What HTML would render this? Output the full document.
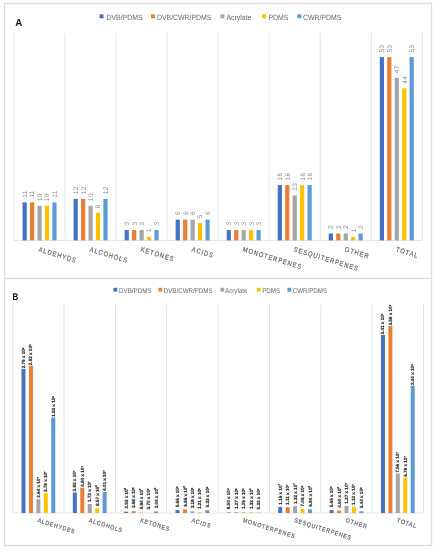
<!DOCTYPE html><html><head><meta charset="utf-8"><style>html,body{margin:0;padding:0;background:#fff;width:436px;height:550px;overflow:hidden}svg{display:block;will-change:transform;filter:blur(0.35px)}text{font-family:"Liberation Sans",sans-serif;text-rendering:geometricPrecision}</style></head><body>
<svg width="436" height="550" viewBox="0 0 436 550">
<rect width="436" height="550" fill="#fff"/>
<path d="M4.5 3.5H431.5V545.5H4.5Z M4.5 278.5H431.5" fill="none" stroke="#DEDEDE" stroke-width="1.3"/>
<line x1="14.05" y1="32.9" x2="14.05" y2="240.4" stroke="#E2E2E2" stroke-width="1"/>
<line x1="65.08" y1="32.9" x2="65.08" y2="240.4" stroke="#E2E2E2" stroke-width="1"/>
<line x1="116.11" y1="32.9" x2="116.11" y2="240.4" stroke="#E2E2E2" stroke-width="1"/>
<line x1="167.14" y1="32.9" x2="167.14" y2="240.4" stroke="#E2E2E2" stroke-width="1"/>
<line x1="218.17" y1="32.9" x2="218.17" y2="240.4" stroke="#E2E2E2" stroke-width="1"/>
<line x1="269.2" y1="32.9" x2="269.2" y2="240.4" stroke="#E2E2E2" stroke-width="1"/>
<line x1="320.23" y1="32.9" x2="320.23" y2="240.4" stroke="#E2E2E2" stroke-width="1"/>
<line x1="371.26" y1="32.9" x2="371.26" y2="240.4" stroke="#E2E2E2" stroke-width="1"/>
<line x1="422.29" y1="32.9" x2="422.29" y2="240.4" stroke="#E2E2E2" stroke-width="1"/>
<line x1="14.05" y1="240.4" x2="422.29" y2="240.4" stroke="#E2E2E2" stroke-width="1"/>
<rect x="22.56" y="202.36" width="4.2" height="38.04" fill="#4472C4"/>
<text transform="translate(27.04,197.76) rotate(-90)" font-size="6.6" letter-spacing="0.35" fill="#8a8a8a">11</text>
<rect x="30.01" y="202.36" width="4.2" height="38.04" fill="#ED7D31"/>
<text transform="translate(34.49,197.76) rotate(-90)" font-size="6.6" letter-spacing="0.35" fill="#8a8a8a">11</text>
<rect x="37.46" y="205.82" width="4.2" height="34.58" fill="#A5A5A5"/>
<text transform="translate(41.94,201.22) rotate(-90)" font-size="6.6" letter-spacing="0.35" fill="#8a8a8a">10</text>
<rect x="44.91" y="205.82" width="4.2" height="34.58" fill="#FFC000"/>
<text transform="translate(49.39,201.22) rotate(-90)" font-size="6.6" letter-spacing="0.35" fill="#8a8a8a">10</text>
<rect x="52.36" y="202.36" width="4.2" height="38.04" fill="#5B9BD5"/>
<text transform="translate(56.84,197.76) rotate(-90)" font-size="6.6" letter-spacing="0.35" fill="#8a8a8a">11</text>
<text transform="translate(38.16,251.3) rotate(17) scale(0.85,1)" font-size="6.8" letter-spacing="1.25" fill="#606060" stroke="#606060" stroke-width="0.18">ALDEHYDS</text>
<rect x="73.59" y="198.9" width="4.2" height="41.5" fill="#4472C4"/>
<text transform="translate(78.07,194.3) rotate(-90)" font-size="6.6" letter-spacing="0.35" fill="#8a8a8a">12</text>
<rect x="81.05" y="198.9" width="4.2" height="41.5" fill="#ED7D31"/>
<text transform="translate(85.52,194.3) rotate(-90)" font-size="6.6" letter-spacing="0.35" fill="#8a8a8a">12</text>
<rect x="88.5" y="205.82" width="4.2" height="34.58" fill="#A5A5A5"/>
<text transform="translate(92.97,201.22) rotate(-90)" font-size="6.6" letter-spacing="0.35" fill="#8a8a8a">10</text>
<rect x="95.95" y="212.74" width="4.2" height="27.66" fill="#FFC000"/>
<text transform="translate(100.42,208.14) rotate(-90)" font-size="6.6" letter-spacing="0.35" fill="#8a8a8a">8</text>
<rect x="103.4" y="198.9" width="4.2" height="41.5" fill="#5B9BD5"/>
<text transform="translate(107.87,194.3) rotate(-90)" font-size="6.6" letter-spacing="0.35" fill="#8a8a8a">12</text>
<text transform="translate(89.19,251.3) rotate(17) scale(0.85,1)" font-size="6.8" letter-spacing="1.25" fill="#606060" stroke="#606060" stroke-width="0.18">ALCOHOLS</text>
<rect x="124.62" y="230.03" width="4.2" height="10.37" fill="#4472C4"/>
<text transform="translate(129.1,225.43) rotate(-90)" font-size="6.6" letter-spacing="0.35" fill="#8a8a8a">3</text>
<rect x="132.08" y="230.03" width="4.2" height="10.37" fill="#ED7D31"/>
<text transform="translate(136.55,225.43) rotate(-90)" font-size="6.6" letter-spacing="0.35" fill="#8a8a8a">3</text>
<rect x="139.53" y="230.03" width="4.2" height="10.37" fill="#A5A5A5"/>
<text transform="translate(144,225.43) rotate(-90)" font-size="6.6" letter-spacing="0.35" fill="#8a8a8a">3</text>
<rect x="146.97" y="236.94" width="4.2" height="3.46" fill="#FFC000"/>
<text transform="translate(151.45,232.34) rotate(-90)" font-size="6.6" letter-spacing="0.35" fill="#8a8a8a">1</text>
<rect x="154.43" y="230.03" width="4.2" height="10.37" fill="#5B9BD5"/>
<text transform="translate(158.9,225.43) rotate(-90)" font-size="6.6" letter-spacing="0.35" fill="#8a8a8a">3</text>
<text transform="translate(140.22,251.3) rotate(17) scale(0.85,1)" font-size="6.8" letter-spacing="1.25" fill="#606060" stroke="#606060" stroke-width="0.18">KETONES</text>
<rect x="175.66" y="219.65" width="4.2" height="20.75" fill="#4472C4"/>
<text transform="translate(180.13,215.05) rotate(-90)" font-size="6.6" letter-spacing="0.35" fill="#8a8a8a">6</text>
<rect x="183.11" y="219.65" width="4.2" height="20.75" fill="#ED7D31"/>
<text transform="translate(187.58,215.05) rotate(-90)" font-size="6.6" letter-spacing="0.35" fill="#8a8a8a">6</text>
<rect x="190.56" y="219.65" width="4.2" height="20.75" fill="#A5A5A5"/>
<text transform="translate(195.03,215.05) rotate(-90)" font-size="6.6" letter-spacing="0.35" fill="#8a8a8a">6</text>
<rect x="198.01" y="223.11" width="4.2" height="17.29" fill="#FFC000"/>
<text transform="translate(202.48,218.51) rotate(-90)" font-size="6.6" letter-spacing="0.35" fill="#8a8a8a">5</text>
<rect x="205.46" y="219.65" width="4.2" height="20.75" fill="#5B9BD5"/>
<text transform="translate(209.93,215.05) rotate(-90)" font-size="6.6" letter-spacing="0.35" fill="#8a8a8a">6</text>
<text transform="translate(191.26,251.3) rotate(17) scale(0.85,1)" font-size="6.8" letter-spacing="1.25" fill="#606060" stroke="#606060" stroke-width="0.18">ACIDS</text>
<rect x="226.69" y="230.03" width="4.2" height="10.37" fill="#4472C4"/>
<text transform="translate(231.16,225.43) rotate(-90)" font-size="6.6" letter-spacing="0.35" fill="#8a8a8a">3</text>
<rect x="234.14" y="230.03" width="4.2" height="10.37" fill="#ED7D31"/>
<text transform="translate(238.61,225.43) rotate(-90)" font-size="6.6" letter-spacing="0.35" fill="#8a8a8a">3</text>
<rect x="241.59" y="230.03" width="4.2" height="10.37" fill="#A5A5A5"/>
<text transform="translate(246.06,225.43) rotate(-90)" font-size="6.6" letter-spacing="0.35" fill="#8a8a8a">3</text>
<rect x="249.03" y="230.03" width="4.2" height="10.37" fill="#FFC000"/>
<text transform="translate(253.51,225.43) rotate(-90)" font-size="6.6" letter-spacing="0.35" fill="#8a8a8a">3</text>
<rect x="256.48" y="230.03" width="4.2" height="10.37" fill="#5B9BD5"/>
<text transform="translate(260.96,225.43) rotate(-90)" font-size="6.6" letter-spacing="0.35" fill="#8a8a8a">3</text>
<text transform="translate(242.28,251.3) rotate(17) scale(0.85,1)" font-size="6.8" letter-spacing="1.25" fill="#606060" stroke="#606060" stroke-width="0.18">MONOTERPENES</text>
<rect x="277.72" y="185.07" width="4.2" height="55.33" fill="#4472C4"/>
<text transform="translate(282.19,180.47) rotate(-90)" font-size="6.6" letter-spacing="0.35" fill="#8a8a8a">16</text>
<rect x="285.17" y="185.07" width="4.2" height="55.33" fill="#ED7D31"/>
<text transform="translate(289.64,180.47) rotate(-90)" font-size="6.6" letter-spacing="0.35" fill="#8a8a8a">16</text>
<rect x="292.62" y="195.45" width="4.2" height="44.95" fill="#A5A5A5"/>
<text transform="translate(297.09,190.85) rotate(-90)" font-size="6.6" letter-spacing="0.35" fill="#8a8a8a">13</text>
<rect x="300.06" y="185.07" width="4.2" height="55.33" fill="#FFC000"/>
<text transform="translate(304.54,180.47) rotate(-90)" font-size="6.6" letter-spacing="0.35" fill="#8a8a8a">16</text>
<rect x="307.51" y="185.07" width="4.2" height="55.33" fill="#5B9BD5"/>
<text transform="translate(311.99,180.47) rotate(-90)" font-size="6.6" letter-spacing="0.35" fill="#8a8a8a">16</text>
<text transform="translate(293.32,251.3) rotate(17) scale(0.85,1)" font-size="6.8" letter-spacing="1.25" fill="#606060" stroke="#606060" stroke-width="0.18">SESQUITERPENES</text>
<rect x="328.75" y="233.48" width="4.2" height="6.92" fill="#4472C4"/>
<text transform="translate(333.22,228.88) rotate(-90)" font-size="6.6" letter-spacing="0.35" fill="#8a8a8a">2</text>
<rect x="336.19" y="233.48" width="4.2" height="6.92" fill="#ED7D31"/>
<text transform="translate(340.67,228.88) rotate(-90)" font-size="6.6" letter-spacing="0.35" fill="#8a8a8a">2</text>
<rect x="343.64" y="233.48" width="4.2" height="6.92" fill="#A5A5A5"/>
<text transform="translate(348.12,228.88) rotate(-90)" font-size="6.6" letter-spacing="0.35" fill="#8a8a8a">2</text>
<rect x="351.09" y="236.94" width="4.2" height="3.46" fill="#FFC000"/>
<text transform="translate(355.57,232.34) rotate(-90)" font-size="6.6" letter-spacing="0.35" fill="#8a8a8a">1</text>
<rect x="358.54" y="233.48" width="4.2" height="6.92" fill="#5B9BD5"/>
<text transform="translate(363.02,228.88) rotate(-90)" font-size="6.6" letter-spacing="0.35" fill="#8a8a8a">2</text>
<text transform="translate(344.35,251.3) rotate(17) scale(0.85,1)" font-size="6.8" letter-spacing="1.25" fill="#606060" stroke="#606060" stroke-width="0.18">OTHER</text>
<rect x="379.78" y="57.13" width="4.2" height="183.27" fill="#4472C4"/>
<text transform="translate(384.25,52.53) rotate(-90)" font-size="6.6" letter-spacing="0.35" fill="#8a8a8a">53</text>
<rect x="387.23" y="57.13" width="4.2" height="183.27" fill="#ED7D31"/>
<text transform="translate(391.7,52.53) rotate(-90)" font-size="6.6" letter-spacing="0.35" fill="#8a8a8a">53</text>
<rect x="394.68" y="77.87" width="4.2" height="162.53" fill="#A5A5A5"/>
<text transform="translate(399.15,73.27) rotate(-90)" font-size="6.6" letter-spacing="0.35" fill="#8a8a8a">47</text>
<rect x="402.12" y="88.25" width="4.2" height="152.15" fill="#FFC000"/>
<text transform="translate(406.6,83.65) rotate(-90)" font-size="6.6" letter-spacing="0.35" fill="#8a8a8a">44</text>
<rect x="409.57" y="57.13" width="4.2" height="183.27" fill="#5B9BD5"/>
<text transform="translate(414.05,52.53) rotate(-90)" font-size="6.6" letter-spacing="0.35" fill="#8a8a8a">53</text>
<text transform="translate(395.38,251.3) rotate(17) scale(0.85,1)" font-size="6.8" letter-spacing="1.25" fill="#606060" stroke="#606060" stroke-width="0.18">TOTAL</text>
<text transform="translate(15.3,25.8) scale(0.95,1)" font-size="10.2" font-weight="bold" fill="#111">A</text>
<rect x="99.5" y="14.3" width="4" height="4" fill="#4472C4"/>
<text transform="translate(106.5,19.6) scale(0.9,1)" font-size="7.7" fill="#666">DVB/PDMS</text>
<rect x="151" y="14.3" width="4" height="4" fill="#ED7D31"/>
<text transform="translate(156.9,19.6) scale(0.9,1)" font-size="7.7" fill="#666">DVB/CWR/PDMS</text>
<rect x="220.4" y="14.3" width="4" height="4" fill="#A5A5A5"/>
<text transform="translate(226.4,19.6) scale(0.9,1)" font-size="7.7" fill="#666">Acrylate</text>
<rect x="262.2" y="14.3" width="4" height="4" fill="#FFC000"/>
<text transform="translate(268.4,19.6) scale(0.9,1)" font-size="7.7" fill="#666">PDMS</text>
<rect x="297.4" y="14.3" width="4" height="4" fill="#5B9BD5"/>
<text transform="translate(303,19.6) scale(0.9,1)" font-size="7.7" fill="#666">CWR/PDMS</text>
<line x1="12.7" y1="304.2" x2="12.7" y2="513" stroke="#E2E2E2" stroke-width="1"/>
<line x1="64.05" y1="304.2" x2="64.05" y2="513" stroke="#E2E2E2" stroke-width="1"/>
<line x1="115.4" y1="304.2" x2="115.4" y2="513" stroke="#E2E2E2" stroke-width="1"/>
<line x1="166.75" y1="304.2" x2="166.75" y2="513" stroke="#E2E2E2" stroke-width="1"/>
<line x1="218.1" y1="304.2" x2="218.1" y2="513" stroke="#E2E2E2" stroke-width="1"/>
<line x1="269.45" y1="304.2" x2="269.45" y2="513" stroke="#E2E2E2" stroke-width="1"/>
<line x1="320.8" y1="304.2" x2="320.8" y2="513" stroke="#E2E2E2" stroke-width="1"/>
<line x1="372.15" y1="304.2" x2="372.15" y2="513" stroke="#E2E2E2" stroke-width="1"/>
<line x1="423.5" y1="304.2" x2="423.5" y2="513" stroke="#E2E2E2" stroke-width="1"/>
<line x1="12.7" y1="513" x2="423.5" y2="513" stroke="#E2E2E2" stroke-width="1"/>
<rect x="21.48" y="368.93" width="4" height="144.07" fill="#4472C4"/>
<text transform="translate(25.03,368.33) rotate(-90)" font-size="4.6" font-weight="bold" fill="#262626" stroke="#262626" stroke-width="0.15">2.76 x 10<tspan dy="-1.3" font-size="2.85">8</tspan></text>
<rect x="28.93" y="365.8" width="4" height="147.2" fill="#ED7D31"/>
<text transform="translate(32.48,365.2) rotate(-90)" font-size="4.6" font-weight="bold" fill="#262626" stroke="#262626" stroke-width="0.15">2.82 x 10<tspan dy="-1.3" font-size="2.85">8</tspan></text>
<rect x="36.38" y="499.22" width="4" height="13.78" fill="#A5A5A5"/>
<text transform="translate(39.93,497.73) rotate(-90)" font-size="4.6" font-weight="bold" fill="#262626" stroke="#262626" stroke-width="0.15">2.64 x 10<tspan dy="-1.3" font-size="2.85">7</tspan></text>
<rect x="43.83" y="493.22" width="4" height="19.78" fill="#FFC000"/>
<text transform="translate(47.38,492.08) rotate(-90)" font-size="4.6" font-weight="bold" fill="#262626" stroke="#262626" stroke-width="0.15">3.79 x 10<tspan dy="-1.3" font-size="2.85">7</tspan></text>
<rect x="51.27" y="417.47" width="4" height="95.53" fill="#5B9BD5"/>
<text transform="translate(54.83,416.87) rotate(-90)" font-size="4.6" font-weight="bold" fill="#262626" stroke="#262626" stroke-width="0.15">1.83 x 10<tspan dy="-1.3" font-size="2.85">8</tspan></text>
<text transform="translate(37.17,522) rotate(17.5) scale(0.85,1)" font-size="6.1" letter-spacing="1.05" fill="#606060" stroke="#606060" stroke-width="0.18">ALDEHYDES</text>
<rect x="72.83" y="492.49" width="4" height="20.51" fill="#4472C4"/>
<text transform="translate(76.38,491.38) rotate(-90)" font-size="4.6" font-weight="bold" fill="#262626" stroke="#262626" stroke-width="0.15">3.93 x 10<tspan dy="-1.3" font-size="2.85">7</tspan></text>
<rect x="80.28" y="487.74" width="4" height="25.26" fill="#ED7D31"/>
<text transform="translate(83.83,486.79) rotate(-90)" font-size="4.6" font-weight="bold" fill="#262626" stroke="#262626" stroke-width="0.15">4.84 x 10<tspan dy="-1.3" font-size="2.85">7</tspan></text>
<rect x="87.73" y="503.97" width="4" height="9.03" fill="#A5A5A5"/>
<text transform="translate(91.28,502.05) rotate(-90)" font-size="4.6" font-weight="bold" fill="#262626" stroke="#262626" stroke-width="0.15">1.73 x 10<tspan dy="-1.3" font-size="2.85">7</tspan></text>
<rect x="95.18" y="508.53" width="4" height="4.47" fill="#FFC000"/>
<text transform="translate(98.73,506) rotate(-90)" font-size="4.6" font-weight="bold" fill="#262626" stroke="#262626" stroke-width="0.15">8.57 x 10<tspan dy="-1.3" font-size="2.85">6</tspan></text>
<rect x="102.63" y="492.07" width="4" height="20.93" fill="#5B9BD5"/>
<text transform="translate(106.18,490.98) rotate(-90)" font-size="4.6" font-weight="bold" fill="#262626" stroke="#262626" stroke-width="0.15">4.01 x 10<tspan dy="-1.3" font-size="2.85">7</tspan></text>
<text transform="translate(88.53,522) rotate(17.5) scale(0.85,1)" font-size="6.1" letter-spacing="1.05" fill="#606060" stroke="#606060" stroke-width="0.18">ALCOHOLS</text>
<rect x="124.17" y="511.68" width="4" height="1.32" fill="#4472C4"/>
<text transform="translate(127.73,508.57) rotate(-90)" font-size="4.6" font-weight="bold" fill="#262626" stroke="#262626" stroke-width="0.15">2.53 x 10<tspan dy="-1.3" font-size="2.85">6</tspan></text>
<rect x="131.62" y="511.07" width="4" height="1.93" fill="#ED7D31"/>
<text transform="translate(135.18,508.09) rotate(-90)" font-size="4.6" font-weight="bold" fill="#262626" stroke="#262626" stroke-width="0.15">3.69 x 10<tspan dy="-1.3" font-size="2.85">6</tspan></text>
<rect x="139.07" y="512.69" width="4" height="0.31" fill="#A5A5A5"/>
<text transform="translate(142.63,509.36) rotate(-90)" font-size="4.6" font-weight="bold" fill="#262626" stroke="#262626" stroke-width="0.15">5.94 x 10<tspan dy="-1.3" font-size="2.85">5</tspan></text>
<rect x="146.52" y="512.81" width="4" height="0.19" fill="#FFC000"/>
<text transform="translate(150.08,509.45) rotate(-90)" font-size="4.6" font-weight="bold" fill="#262626" stroke="#262626" stroke-width="0.15">3.70 x 10<tspan dy="-1.3" font-size="2.85">5</tspan></text>
<rect x="153.97" y="511.41" width="4" height="1.59" fill="#5B9BD5"/>
<text transform="translate(157.53,508.36) rotate(-90)" font-size="4.6" font-weight="bold" fill="#262626" stroke="#262626" stroke-width="0.15">3.04 x 10<tspan dy="-1.3" font-size="2.85">6</tspan></text>
<text transform="translate(139.88,522) rotate(17.5) scale(0.85,1)" font-size="6.1" letter-spacing="1.05" fill="#606060" stroke="#606060" stroke-width="0.18">KETONES</text>
<rect x="175.52" y="510.05" width="4" height="2.95" fill="#4472C4"/>
<text transform="translate(179.08,507.26) rotate(-90)" font-size="4.6" font-weight="bold" fill="#262626" stroke="#262626" stroke-width="0.15">5.66 x 10<tspan dy="-1.3" font-size="2.85">6</tspan></text>
<rect x="182.97" y="509.42" width="4" height="3.58" fill="#ED7D31"/>
<text transform="translate(186.53,506.74) rotate(-90)" font-size="4.6" font-weight="bold" fill="#262626" stroke="#262626" stroke-width="0.15">6.86 x 10<tspan dy="-1.3" font-size="2.85">6</tspan></text>
<rect x="190.42" y="511.33" width="4" height="1.67" fill="#A5A5A5"/>
<text transform="translate(193.98,508.3) rotate(-90)" font-size="4.6" font-weight="bold" fill="#262626" stroke="#262626" stroke-width="0.15">3.19 x 10<tspan dy="-1.3" font-size="2.85">6</tspan></text>
<rect x="197.87" y="512.37" width="4" height="0.63" fill="#FFC000"/>
<text transform="translate(201.43,509.11) rotate(-90)" font-size="4.6" font-weight="bold" fill="#262626" stroke="#262626" stroke-width="0.15">1.21 x 10<tspan dy="-1.3" font-size="2.85">6</tspan></text>
<rect x="205.32" y="510.22" width="4" height="2.78" fill="#5B9BD5"/>
<text transform="translate(208.88,507.4) rotate(-90)" font-size="4.6" font-weight="bold" fill="#262626" stroke="#262626" stroke-width="0.15">5.33 x 10<tspan dy="-1.3" font-size="2.85">6</tspan></text>
<text transform="translate(191.22,522) rotate(17.5) scale(0.85,1)" font-size="6.1" letter-spacing="1.05" fill="#606060" stroke="#606060" stroke-width="0.18">ACIDS</text>
<rect x="226.88" y="512.56" width="4" height="0.44" fill="#4472C4"/>
<text transform="translate(230.43,509.26) rotate(-90)" font-size="4.6" font-weight="bold" fill="#262626" stroke="#262626" stroke-width="0.15">8.50 x 10<tspan dy="-1.3" font-size="2.85">5</tspan></text>
<rect x="234.33" y="512.34" width="4" height="0.66" fill="#ED7D31"/>
<text transform="translate(237.88,509.09) rotate(-90)" font-size="4.6" font-weight="bold" fill="#262626" stroke="#262626" stroke-width="0.15">1.27 x 10<tspan dy="-1.3" font-size="2.85">6</tspan></text>
<rect x="241.78" y="512.34" width="4" height="0.66" fill="#A5A5A5"/>
<text transform="translate(245.33,509.09) rotate(-90)" font-size="4.6" font-weight="bold" fill="#262626" stroke="#262626" stroke-width="0.15">1.26 x 10<tspan dy="-1.3" font-size="2.85">6</tspan></text>
<rect x="249.22" y="512.31" width="4" height="0.69" fill="#FFC000"/>
<text transform="translate(252.78,509.07) rotate(-90)" font-size="4.6" font-weight="bold" fill="#262626" stroke="#262626" stroke-width="0.15">1.32 x 10<tspan dy="-1.3" font-size="2.85">6</tspan></text>
<rect x="256.68" y="512.72" width="4" height="0.28" fill="#5B9BD5"/>
<text transform="translate(260.23,509.39) rotate(-90)" font-size="4.6" font-weight="bold" fill="#262626" stroke="#262626" stroke-width="0.15">5.33 x 10<tspan dy="-1.3" font-size="2.85">5</tspan></text>
<text transform="translate(242.58,522) rotate(17.5) scale(0.85,1)" font-size="6.1" letter-spacing="1.05" fill="#606060" stroke="#606060" stroke-width="0.18">MONOTERPENES</text>
<rect x="278.23" y="506.94" width="4" height="6.06" fill="#4472C4"/>
<text transform="translate(281.78,504.65) rotate(-90)" font-size="4.6" font-weight="bold" fill="#262626" stroke="#262626" stroke-width="0.15">1.16 x 10<tspan dy="-1.3" font-size="2.85">7</tspan></text>
<rect x="285.68" y="507.21" width="4" height="5.79" fill="#ED7D31"/>
<text transform="translate(289.23,504.88) rotate(-90)" font-size="4.6" font-weight="bold" fill="#262626" stroke="#262626" stroke-width="0.15">1.11 x 10<tspan dy="-1.3" font-size="2.85">7</tspan></text>
<rect x="293.12" y="506.11" width="4" height="6.89" fill="#A5A5A5"/>
<text transform="translate(296.68,503.93) rotate(-90)" font-size="4.6" font-weight="bold" fill="#262626" stroke="#262626" stroke-width="0.15">1.32 x 10<tspan dy="-1.3" font-size="2.85">7</tspan></text>
<rect x="300.57" y="509.11" width="4" height="3.89" fill="#FFC000"/>
<text transform="translate(304.13,506.48) rotate(-90)" font-size="4.6" font-weight="bold" fill="#262626" stroke="#262626" stroke-width="0.15">7.46 x 10<tspan dy="-1.3" font-size="2.85">6</tspan></text>
<rect x="308.02" y="509.38" width="4" height="3.62" fill="#5B9BD5"/>
<text transform="translate(311.58,506.71) rotate(-90)" font-size="4.6" font-weight="bold" fill="#262626" stroke="#262626" stroke-width="0.15">6.94 x 10<tspan dy="-1.3" font-size="2.85">6</tspan></text>
<text transform="translate(293.93,522) rotate(17.5) scale(0.85,1)" font-size="6.1" letter-spacing="1.05" fill="#606060" stroke="#606060" stroke-width="0.18">SESQUITERPENES</text>
<rect x="329.58" y="510.05" width="4" height="2.95" fill="#4472C4"/>
<text transform="translate(333.13,507.26) rotate(-90)" font-size="4.6" font-weight="bold" fill="#262626" stroke="#262626" stroke-width="0.15">5.65 x 10<tspan dy="-1.3" font-size="2.85">6</tspan></text>
<rect x="337.03" y="510.6" width="4" height="2.4" fill="#ED7D31"/>
<text transform="translate(340.58,507.71) rotate(-90)" font-size="4.6" font-weight="bold" fill="#262626" stroke="#262626" stroke-width="0.15">4.60 x 10<tspan dy="-1.3" font-size="2.85">6</tspan></text>
<rect x="344.48" y="505.85" width="4" height="7.15" fill="#A5A5A5"/>
<text transform="translate(348.03,503.71) rotate(-90)" font-size="4.6" font-weight="bold" fill="#262626" stroke="#262626" stroke-width="0.15">1.37 x 10<tspan dy="-1.3" font-size="2.85">7</tspan></text>
<rect x="351.93" y="507.26" width="4" height="5.74" fill="#FFC000"/>
<text transform="translate(355.48,504.92) rotate(-90)" font-size="4.6" font-weight="bold" fill="#262626" stroke="#262626" stroke-width="0.15">1.10 x 10<tspan dy="-1.3" font-size="2.85">7</tspan></text>
<rect x="359.38" y="511.2" width="4" height="1.8" fill="#5B9BD5"/>
<text transform="translate(362.93,508.19) rotate(-90)" font-size="4.6" font-weight="bold" fill="#262626" stroke="#262626" stroke-width="0.15">3.44 x 10<tspan dy="-1.3" font-size="2.85">6</tspan></text>
<text transform="translate(345.28,522) rotate(17.5) scale(0.85,1)" font-size="6.1" letter-spacing="1.05" fill="#606060" stroke="#606060" stroke-width="0.18">OTHER</text>
<rect x="380.93" y="335" width="4" height="178" fill="#4472C4"/>
<text transform="translate(384.48,334.4) rotate(-90)" font-size="4.6" font-weight="bold" fill="#262626" stroke="#262626" stroke-width="0.15">3.41 x 10<tspan dy="-1.3" font-size="2.85">8</tspan></text>
<rect x="388.38" y="326.12" width="4" height="186.88" fill="#ED7D31"/>
<text transform="translate(391.93,325.52) rotate(-90)" font-size="4.6" font-weight="bold" fill="#262626" stroke="#262626" stroke-width="0.15">3.58 x 10<tspan dy="-1.3" font-size="2.85">8</tspan></text>
<rect x="395.82" y="473.54" width="4" height="39.46" fill="#A5A5A5"/>
<text transform="translate(399.38,472.83) rotate(-90)" font-size="4.6" font-weight="bold" fill="#262626" stroke="#262626" stroke-width="0.15">7.56 x 10<tspan dy="-1.3" font-size="2.85">7</tspan></text>
<rect x="403.27" y="477.56" width="4" height="35.44" fill="#FFC000"/>
<text transform="translate(406.83,476.81) rotate(-90)" font-size="4.6" font-weight="bold" fill="#262626" stroke="#262626" stroke-width="0.15">6.79 x 10<tspan dy="-1.3" font-size="2.85">7</tspan></text>
<rect x="410.72" y="385.63" width="4" height="127.37" fill="#5B9BD5"/>
<text transform="translate(414.28,385.03) rotate(-90)" font-size="4.6" font-weight="bold" fill="#262626" stroke="#262626" stroke-width="0.15">2.44 x 10<tspan dy="-1.3" font-size="2.85">8</tspan></text>
<text transform="translate(396.62,522) rotate(17.5) scale(0.85,1)" font-size="6.1" letter-spacing="1.05" fill="#606060" stroke="#606060" stroke-width="0.18">TOTAL</text>
<text transform="translate(12.6,300.2) scale(0.82,1)" font-size="9.7" font-weight="bold" fill="#111">B</text>
<rect x="113.5" y="287.8" width="3.8" height="3.8" fill="#4472C4"/>
<text transform="translate(119.1,292.7) scale(0.9,1)" font-size="6.9" fill="#666">DVB/PDMS</text>
<rect x="158.4" y="287.8" width="3.8" height="3.8" fill="#ED7D31"/>
<text transform="translate(163.7,292.7) scale(0.9,1)" font-size="6.9" fill="#666">DVB/CWR/PDMS</text>
<rect x="220.4" y="287.8" width="3.8" height="3.8" fill="#A5A5A5"/>
<text transform="translate(225,292.7) scale(0.9,1)" font-size="6.9" fill="#666">Acrylate</text>
<rect x="256.9" y="287.8" width="3.8" height="3.8" fill="#FFC000"/>
<text transform="translate(262.2,292.7) scale(0.9,1)" font-size="6.9" fill="#666">PDMS</text>
<rect x="287.4" y="287.8" width="3.8" height="3.8" fill="#5B9BD5"/>
<text transform="translate(292.7,292.7) scale(0.9,1)" font-size="6.9" fill="#666">CWR/PDMS</text>
</svg></body></html>
